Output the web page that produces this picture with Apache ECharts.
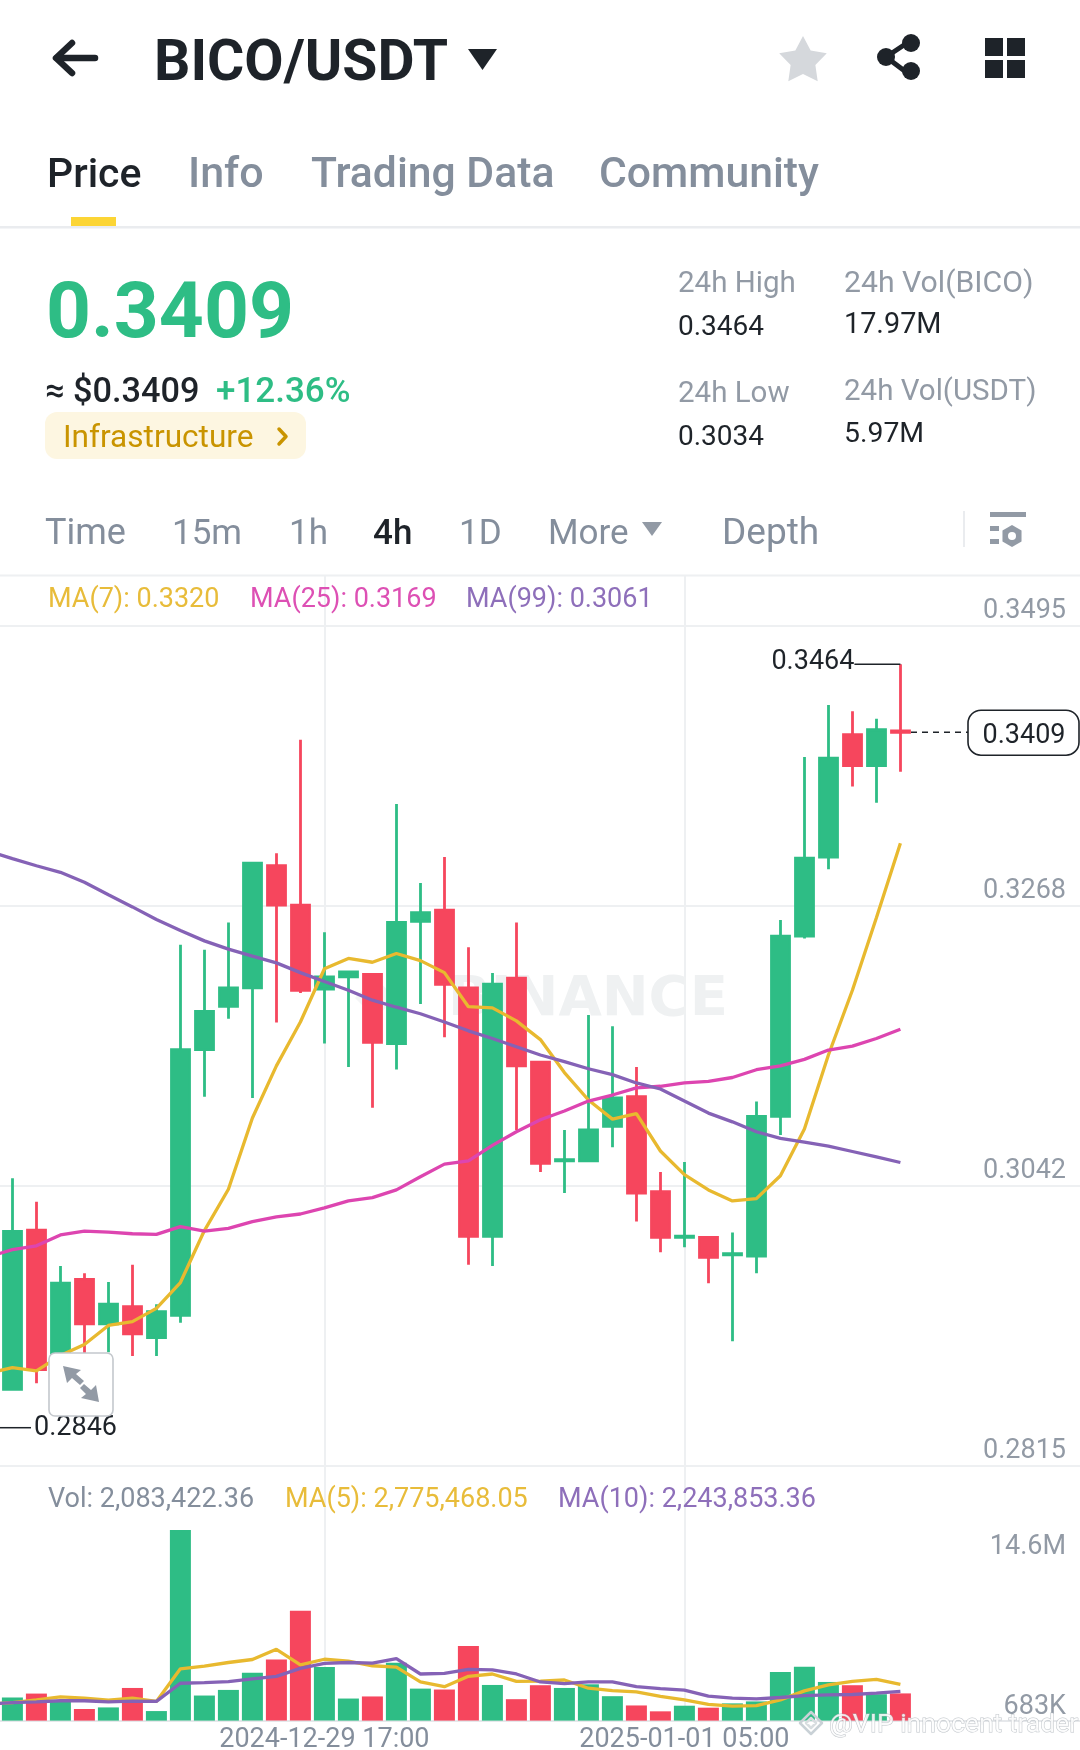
<!DOCTYPE html>
<html><head><meta charset="utf-8">
<style>html,body{margin:0;padding:0;background:#fff}#c{width:1080px;height:1750px}</style>
<script src="https://cdn.jsdelivr.net/npm/echarts@6/dist/echarts.min.js"></script>
</head><body><div id="c"></div>
<script>
// ---- categories (first is a slot left of the screen edge, the last seven are the empty right margin)
const categories = [
 '2024-12-27 09:00','2024-12-27 13:00','2024-12-27 17:00','2024-12-27 21:00',
 '2024-12-28 01:00','2024-12-28 05:00','2024-12-28 09:00','2024-12-28 13:00','2024-12-28 17:00','2024-12-28 21:00',
 '2024-12-29 01:00','2024-12-29 05:00','2024-12-29 09:00','2024-12-29 13:00','2024-12-29 17:00','2024-12-29 21:00',
 '2024-12-30 01:00','2024-12-30 05:00','2024-12-30 09:00','2024-12-30 13:00','2024-12-30 17:00','2024-12-30 21:00',
 '2024-12-31 01:00','2024-12-31 05:00','2024-12-31 09:00','2024-12-31 13:00','2024-12-31 17:00','2024-12-31 21:00',
 '2025-01-01 01:00','2025-01-01 05:00','2025-01-01 09:00','2025-01-01 13:00','2025-01-01 17:00','2025-01-01 21:00',
 '2025-01-02 01:00','2025-01-02 05:00','2025-01-02 09:00','2025-01-02 13:00','2025-01-02 17:00','2025-01-02 21:00',
 '2025-01-03 01:00','2025-01-03 05:00','2025-01-03 09:00','2025-01-03 13:00','2025-01-03 17:00','2025-01-03 21:00'];
const timeTicks = ['2024-12-29 17:00','2025-01-01 05:00'];
const priceMin = 0.2815, priceMax = 0.3495;
const volMax = 14600000, volTicks = [683000, 14600000];

const opens  = [.2877,.3006,.2901,.2966,.2930,.2944,.2919,.2937,.3152,.3187,.3202,.3301,.3269,.3201,.3211,.3213,.3157,.3256,.3265,.3202,.3001,.3210,.3142,.3062,.3062,.3090,.3114,.3037,.3000,.3000,.2986,.2985,.3098,.3244,.3308,.3407,.3382,.3410];
const closes = [.3005,.2893,.2963,.2930,.2946,.2922,.2940,.3152,.3183,.3202,.3303,.3269,.3200,.3211,.3215,.3158,.3255,.3263,.3205,.3001,.3205,.3139,.3060,.3063,.3087,.3113,.3036,.3000,.3001,.2984,.2987,.3098,.3244,.3307,.3388,.3382,.3411,.3409];
const lows   = [.2877,.2882,.2899,.2906,.2907,.2904,.2904,.2931,.3114,.3177,.3113,.3174,.3198,.3157,.3138,.3105,.3136,.3189,.3162,.2978,.2977,.3087,.3053,.3036,.3062,.3073,.3013,.2988,.2992,.2963,.2916,.2971,.3083,.3242,.3298,.3365,.3352,.3377];
const highs  = [.3048,.3029,.2977,.2971,.2964,.2978,.2946,.3237,.3233,.3255,.3304,.3311,.3403,.3247,.3216,.3213,.3351,.3287,.3308,.3235,.3214,.3255,.3142,.3087,.3180,.3171,.3138,.3053,.3061,.3000,.3004,.3110,.3257,.3389,.3431,.3426,.3420,.3464];
// moving averages start one slot earlier than the candles
const ma7  = [.28902,.28946,.28920,.29044,.29133,.29288,.29319,.29426,.29635,.30056,.30390,.30967,.31389,.31744,.32175,.32259,.32228,.32299,.32241,.32144,.31868,.31859,.31753,.31602,.31335,.31113,.30958,.31002,.30700,.30509,.30385,.30296,.30314,.30500,.30878,.31477,.32001,.32588,.33192];
const ma25 = [.29843,.29901,.29932,.30021,.30052,.30043,.30030,.30025,.30088,.30052,.30074,.30128,.30167,.30190,.30239,.30296,.30323,.30385,.30492,.30594,.30620,.30745,.30856,.30953,.31024,.31104,.31153,.31211,.31224,.31251,.31264,.31295,.31358,.31389,.31442,.31517,.31549,.31611,.31686];
const ma99 = [.33129,.33067,.33009,.32956,.32876,.32774,.32676,.32574,.32485,.32401,.32334,.32277,.32223,.32144,.32072,.32001,.31921,.31864,.31811,.31744,.31673,.31611,.31544,.31477,.31424,.31366,.31318,.31251,.31202,.31104,.31007,.30936,.30856,.30802,.30771,.30740,.30696,.30652,.30607];
const volumesM = [1.77,2.07,1.57,0.89,1.01,2.50,0.73,14.6,1.92,2.35,3.67,4.68,8.42,4.10,1.69,1.85,4.43,2.45,2.38,5.72,2.73,1.64,2.71,2.50,2.78,1.87,1.16,0.71,1.14,0.99,1.32,1.47,3.72,4.12,2.96,2.71,2.02,2.083];
const volMa5M  = [1.26,1.37,1.59,1.82,1.72,1.57,1.72,1.47,3.97,4.17,4.45,4.68,5.46,4.27,4.70,4.55,4.20,4.10,2.96,2.60,3.39,3.57,3.01,3.03,3.11,2.48,2.30,2.20,1.85,1.59,1.24,1.11,1.14,1.59,2.28,2.73,3.01,3.16,2.775];
const volMa10M = [1.26,1.37,1.44,1.52,1.52,1.44,1.49,1.47,2.86,2.91,2.98,3.19,3.39,4.00,4.38,4.45,4.40,4.75,3.57,3.62,3.92,3.89,3.57,2.96,2.83,2.96,2.96,2.60,2.45,2.33,1.87,1.72,1.67,1.77,1.92,1.97,2.00,2.10,2.244];
const highLabel = 0.3464, lowLabel = 0.2846, lastPrice = 0.3409;

const GREEN='#2EBD85', RED='#F6465D', DARK='#1E2329', GRAY='#848E9C', AXIS='#929AA5', LINE='#EEF0F2';
const GOLD='#E8B92F', PINK='#DD45B0', PURPLE='#8562B6';
const FONT='Roboto';

const chart = echarts.init(document.getElementById('c'), null, {renderer:'canvas', width:1080, height:1750});

const candleData = [['-','-','-','-']].concat(opens.map((o,i)=>[o,closes[i],lows[i],highs[i]]));
const volData = [null].concat(volumesM.map((v,i)=>({value:v*1e6,itemStyle:{color:closes[i]>=opens[i]?GREEN:RED}})));
const isTimeTick = (i,v)=>timeTicks.includes(v);
const gl = {left:-23.6, width:1104, outerBoundsMode:'none', containLabel:false};

const lineSeries=(name,data,color,xi,yi)=>({name,type:'line',data,xAxisIndex:xi,yAxisIndex:yi,showSymbol:false,smooth:false,
  lineStyle:{color,width:3.3},itemStyle:{color},z:4,silent:true});

chart.setOption({
  animation:false, backgroundColor:'#fff', tooltip:{show:false}, legend:{show:false},
  grid:[
    {...gl, top:626, height:840},
    {...gl, top:1530, height:190.6},
    {...gl, top:575, height:1145.6}
  ],
  xAxis:[
    {type:'category',gridIndex:0,data:categories,boundaryGap:true,axisLine:{show:false},axisTick:{show:false},axisLabel:{show:false},splitLine:{show:false}},
    {type:'category',gridIndex:1,data:categories,boundaryGap:true,axisLine:{show:true,lineStyle:{color:'#E6E8EB',width:2}},axisTick:{show:false},
      axisLabel:{show:true,interval:isTimeTick,color:GRAY,fontFamily:FONT,fontSize:27,margin:6,lineHeight:28,hideOverlap:false},splitLine:{show:false}},
    {type:'category',gridIndex:2,data:categories,boundaryGap:true,axisLine:{show:false},axisTick:{show:false},axisLabel:{show:false},
      splitLine:{show:true,alignWithLabel:true,interval:isTimeTick,lineStyle:{color:LINE,width:2}}}
  ],
  yAxis:[
    {type:'value',gridIndex:0,position:'right',min:priceMin,max:priceMax,interval:(priceMax-priceMin)/3,scale:true,
      axisLine:{show:false},axisTick:{show:false},splitLine:{show:true,lineStyle:{color:LINE,width:2}},
      axisLabel:{inside:true,margin:14.4,color:AXIS,fontFamily:FONT,fontSize:27,align:'right',verticalAlign:'bottom',lineHeight:26,padding:[0,0,1.6,0],
        formatter:v=>v.toFixed(4),showMinLabel:true,showMaxLabel:true,hideOverlap:false}},
    {type:'value',gridIndex:1,position:'right',min:0,max:volMax,
      axisLine:{show:false},axisTick:{show:false},splitLine:{show:false},
      axisLabel:{inside:true,margin:14.4,color:AXIS,fontFamily:FONT,fontSize:27,align:'right',customValues:volTicks,
        verticalAlignMinLabel:'bottom',verticalAlignMaxLabel:'top',lineHeight:9,padding:[12.9,0,0,0],
        formatter:v=>v>=1e6?(v/1e6).toFixed(1)+'M':Math.round(v/1e3)+'K',hideOverlap:false}},
    {type:'value',gridIndex:2,show:false,min:0,max:1}
  ],
  series:[
    {name:'BICO/USDT',type:'candlestick',data:candleData,xAxisIndex:0,yAxisIndex:0,barWidth:18.5,z:3,silent:true,
      itemStyle:{color:GREEN,color0:RED,borderColor:GREEN,borderColor0:RED,borderWidth:2.8}},
    lineSeries('MA(7)',ma7,GOLD,0,0),
    lineSeries('MA(25)',ma25,PINK,0,0),
    lineSeries('MA(99)',ma99,PURPLE,0,0),
    {name:'Vol',type:'bar',data:volData,xAxisIndex:1,yAxisIndex:1,barWidth:21,z:3,silent:true},
    lineSeries('Vol MA(5)',volMa5M.map(v=>v*1e6),GOLD,1,1),
    lineSeries('Vol MA(10)',volMa10M.map(v=>v*1e6),PURPLE,1,1)
  ]
});

// ---- page chrome helpers
const T=(text,x,y,fill,size,opt={})=>({type:'text',z:opt.z??20,silent:true,style:{text,x,y:y+size*0.11,fill,
  font:`${opt.w||400} ${size}px ${opt.f||FONT}`,align:opt.a||'left',verticalAlign:'middle',
  stroke:opt.stroke,lineWidth:opt.lw}});
const Rect=(x,y,w,h,fill,r=0,z=20,stroke,lw)=>({type:'rect',z,silent:true,shape:{x,y,width:w,height:h,r},style:{fill,stroke,lineWidth:lw}});
const Poly=(points,fill,z=20)=>({type:'polygon',z,silent:true,shape:{points},style:{fill}});
const PL=(points,stroke,lw,z=20,extra={})=>({type:'polyline',z,silent:true,shape:{points},style:{stroke,lineWidth:lw,fill:'none',lineCap:'round',lineJoin:'round',...extra}});
const Circ=(cx,cy,r,fill,z=20)=>({type:'circle',z,silent:true,shape:{cx,cy,r},style:{fill}});
const star=(cx,cy,R,r)=>{const p=[];for(let i=0;i<10;i++){const a=-Math.PI/2+i*Math.PI/5,q=i%2?r:R;p.push([cx+q*Math.cos(a),cy+q*Math.sin(a)]);}return p;};
const hex=(cx,cy,R)=>{const p=[];for(let i=0;i<6;i++){const a=Math.PI/2+i*Math.PI/3;p.push([cx+R*Math.cos(a),cy+R*Math.sin(a)]);}return p;};

const px=(i,v)=>chart.convertToPixel({gridIndex:0},[i+1,v]);
const hi=px(37,highLabel), lo=px(0,lowLabel), last=px(37,lastPrice);

const graphics=[
  // top bar
  PL([[72,43],[56,58],[72,73]],DARK,6.5), PL([[57,58],[95,58]],DARK,6.5),
  T('BICO/USDT',154,59,DARK,57,{w:700}),
  Poly([[468,49],[497,49],[482.5,70]],DARK),
  Poly(star(803,61,25,13),'#D5D8DC'),
  PL([[910,41],[886,57],[910,75]],DARK,5), Circ(911,43,9,DARK),Circ(886,57,9,DARK),Circ(911,71,9,DARK),
  Rect(985,38,18,18,DARK),Rect(1007,38,18,18,DARK),Rect(985,60,18,18,DARK),Rect(1007,60,18,18,DARK),
  // tabs
  T('Price',47,172,DARK,41,{w:500}),
  T('Info',188,172,GRAY,43,{w:500}),
  T('Trading Data',311,172,GRAY,42.7,{w:500}),
  T('Community',599,172,GRAY,42.7,{w:500}),
  Rect(71,217,45,9,'#FCD535'),
  Rect(0,226,1080,2.5,'#EAECEF'),
  // price block
  T('0.3409',46,309,GREEN,78.5,{w:700}),
  T('≈ $0.3409',45,389.5,DARK,34.3,{w:500}),
  T('+12.36%',216,389.5,GREEN,35,{w:500}),
  Rect(45,412,261,47,'#FDF6E1',12),
  T('Infrastructure',63,436,'#C99400',31.6),
  PL([[279,429],[286,436.5],[279,444]],'#C99400',3.5),
  T('24h High',678,281,AXIS,29.5),
  T('0.3464',678,325,DARK,28),
  T('24h Low',678,391,AXIS,29.5),
  T('0.3034',678,435,DARK,28),
  T('24h Vol(BICO)',844,281,AXIS,30.2),
  T('17.97M',844,323,DARK,28.8),
  T('24h Vol(USDT)',844,389,AXIS,29.5),
  T('5.97M',844,432,DARK,28.4),
  // interval tabs
  T('Time',45,531,GRAY,36),
  T('15m',172,531,GRAY,35),
  T('1h',289,531,GRAY,35),
  T('4h',373,531,DARK,35,{w:500}),
  T('1D',459,531,GRAY,35),
  T('More',548,531,GRAY,35),
  Poly([[642,522],[662,522],[652,536]],AXIS),
  T('Depth',722,531,GRAY,37),
  Rect(963,511,2,36,'#EAECEF'),
  Rect(990,512,36,5,AXIS),Rect(990,526,9,5,AXIS),Rect(990,539,9,5,AXIS),
  Poly(hex(1012,536,11),AXIS),Circ(1012,536,4,'#fff',21),
  Rect(0,574.5,1080,2,LINE,0,1),
  // legends
  T('MA(7): 0.3320',48,597,'#E8BC3A',27),
  T('MA(25): 0.3169',250,597,'#DD50B4',27),
  T('MA(99): 0.3061',466,597,'#8E6FBA',27),
  T('Vol: 2,083,422.36',48,1497,GRAY,27),
  T('MA(5): 2,775,468.05',285,1497,'#E8BC3A',27),
  T('MA(10): 2,243,853.36',558,1497,'#8E6FBA',27),
  // chart watermark
  Poly([[375,978],[396,998],[375,1018],[355,998]],'#F4F5F6',1),
  T('BINANCE',448,994,'#EFF1F2',56,{w:700,f:'DejaVu Sans',z:1}),
  // high/low annotations anchored on the price scale
  T(highLabel.toFixed(4),hi[0]-46,hi[1]-5,DARK,27,{z:10,a:'right'}),
  PL([[hi[0]-46,hi[1]],[hi[0],hi[1]]],DARK,1.5,10,{lineCap:'butt'}),
  T(lowLabel.toFixed(4),34,lo[1]-2,DARK,27,{z:10}),
  PL([[0,lo[1]],[31,lo[1]]],DARK,1.5,10,{lineCap:'butt'}),
  // last price
  PL([[911,last[1]],[968,last[1]]],DARK,1.5,10,{lineDash:[6,5],lineCap:'butt'}),
  Rect(968,last[1]-22,111,45,'#fff',13,10,DARK,1.6),
  T(lastPrice.toFixed(4),1024,last[1]+1,DARK,27,{z:11,a:'center'}),
  // expand button
  Rect(49,1353,64,63,'#fff',6,10,'#C4C8CD',1.6),
  Poly([[63,1366],[81,1370],[76,1374],[84,1381],[80,1385],[72,1378],[67,1383]],AXIS,11),
  Poly([[99,1402],[81,1398],[86,1394],[80,1388],[84,1384],[91,1390],[96,1385]],AXIS,11),
  // bottom watermark
  PL([[811,1712],[822,1723],[811,1734],[800,1723],[811,1712]],'#C9D1D6',2.5,30),
  PL([[806,1723],[811,1718],[816,1723],[811,1728],[806,1723]],'#D8DDE0',2.5,30),
  T('@VIP innocent trader',829,1722,'rgba(255,255,255,0.85)',26.5,{z:30,stroke:'rgba(170,176,183,0.75)',lw:1})
];
chart.setOption({graphic:graphics});
</script></body></html>
